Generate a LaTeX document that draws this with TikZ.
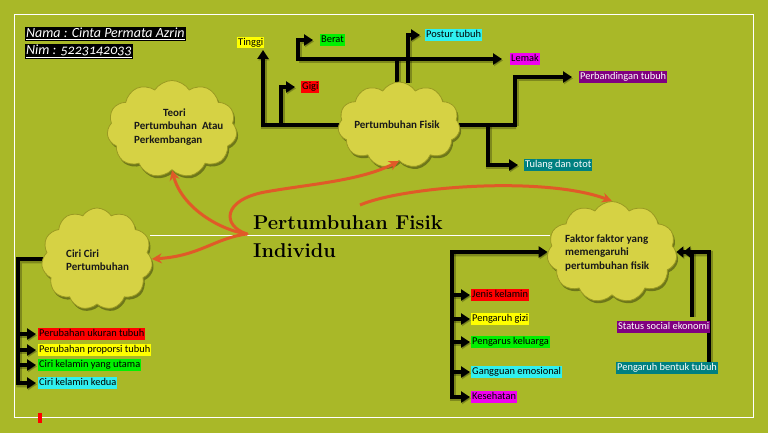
\documentclass[tikz,border=0pt]{standalone}
\usepackage{fontspec}
\newfontfamily\cf{Carlito}[Numbers=OldStyle]
\usetikzlibrary{shapes.symbols,arrows.meta,shadows}
\definecolor{bgc}{HTML}{A9B828}
\definecolor{cloudfill}{HTML}{D6D244}
\definecolor{cloudline}{HTML}{9A9A22}
\definecolor{orng}{HTML}{E05A28}
\definecolor{hlred}{HTML}{FF0000}
\definecolor{hlyellow}{HTML}{FFFF00}
\definecolor{hlgreen}{HTML}{00F000}
\definecolor{hlcyan}{HTML}{30F0F0}
\definecolor{hlmag}{HTML}{F000F0}
\definecolor{hlpurple}{HTML}{800080}
\definecolor{hlteal}{HTML}{008080}
\pgfdeclarelayer{back}
\pgfdeclarelayer{lines}
\pgfsetlayers{back,lines,main}
\begin{document}
\begin{tikzpicture}[x=1pt,y=-1pt,
  cloudbox/.style={cloud, cloud puffs=11, cloud puff arc=115, draw=cloudline, fill=cloudfill,
    line width=0.8pt, inner sep=0pt,
    drop shadow={shadow xshift=1.5pt, shadow yshift=-2.5pt, fill=black, opacity=0.35}},
  cloudtext/.style={align=left, inner sep=0pt, text=black!90,
    font=\cf\bfseries\fontsize{11}{13.5}\selectfont},
  lab/.style={anchor=west, inner xsep=1pt, inner ysep=0.6pt, text height=7.5pt, text depth=2.4pt,
    font=\cf\fontsize{10.4}{11}\selectfont},
  blkl/.style={line width=3.6pt, black, line cap=rect,
    preaction={draw=black, opacity=0.25, line width=5.5pt, transform canvas={shift={(1pt,-1.5pt)}}}},
  blk/.style={blkl, -{Triangle[length=9pt,width=11pt]}},
  orarr/.style={line width=3pt, orng, line cap=round, -{Stealth[length=10pt,width=10pt]}},
  namebox/.style={anchor=north west, fill=black, text=white, inner xsep=1pt, inner ysep=0.8pt,
    font=\cf\itshape\fontsize{14}{14}\selectfont}
]
\useasboundingbox (0,0) rectangle (768,433);
\begin{pgfonlayer}{back}
  \fill[bgc] (0,0) rectangle (768,433);
  \draw[white, line width=1pt] (14,15) rectangle (753,417);
  \draw[white, line width=0.6pt] (150,235) -- (550,235);
  \fill[red] (38,413) rectangle (42,423);
\end{pgfonlayer}

% name
\node[namebox] (nama) at (25,27) {\underline{Nama : Cinta Permata Azrin}};
\node[namebox] (nim) at (25,44) {\underline{Nim : 5223142033}};

% clouds
\node[cloudbox, minimum width=130pt, minimum height=97pt] (teori) at (172,129) {};
\node[cloudtext, anchor=west] (teoritx) at (134,127) {\hspace*{29pt}Teori\\Pertumbuhan\ \ Atau\\Perkembangan};
\node[cloudbox, minimum width=122pt, minimum height=86pt] (pf) at (399,125) {};
\node[cloudtext] (pftx) at (397,125) {Pertumbuhan Fisik};
\node[cloudbox, minimum width=111pt, minimum height=102pt] (ciri) at (97,259) {};
\node[cloudtext, anchor=west] (ciritx) at (66,260) {Ciri Ciri\\Pertumbuhan};
\node[cloudbox, minimum width=130pt, minimum height=101pt] (faktor) at (612,252) {};
\node[cloudtext, anchor=west] (faktortx) at (565,253) {Faktor faktor yang\\memengaruhi\\pertumbuhan fisik};

% title
\node[anchor=north west, inner sep=0pt, align=left, font=\bfseries\fontsize{20}{28}\selectfont] (title) at (253,215) {Pertumbuhan Fisik\\Individu};

% labels
\node[lab, fill=hlyellow] (tinggi) at (237,42.5) {Tinggi};
\node[lab, fill=hlgreen] (berat) at (320,40) {Berat};
\node[lab, fill=hlcyan] (postur) at (425,35) {Postur tubuh};
\node[lab, fill=hlred] (gigi) at (301,87) {Gigi};
\node[lab, fill=hlmag] (lemak) at (510,59) {Lemak};
\node[lab, fill=hlpurple, text=white] (perb) at (579,77) {Perbandingan tubuh};
\node[lab, fill=hlteal, text=white] (tulang) at (524,165) {Tulang dan otot};

\node[lab, fill=hlred] (ukuran) at (38,334) {Perubahan ukuran tubuh};
\node[lab, fill=hlyellow] (proporsi) at (38,350) {Perubahan proporsi tubuh};
\node[lab, fill=hlgreen] (utama) at (38,365) {Ciri kelamin yang utama};
\node[lab, fill=hlcyan] (kedua) at (38,383) {Ciri kelamin kedua};

\node[lab, fill=hlred] (jenis) at (471,295) {Jenis kelamin};
\node[lab, fill=hlyellow] (gizi) at (471,319) {Pengaruh gizi};
\node[lab, fill=hlgreen] (keluarga) at (471,342) {Pengarus keluarga};
\node[lab, fill=hlcyan] (emosi) at (471,372) {Gangguan emosional};
\node[lab, fill=hlmag] (kes) at (471,397) {Kesehatan};

\node[lab, fill=hlpurple, text=white] (status) at (617,327) {Status social ekonomi};
\node[lab, fill=hlteal, text=white] (bentuk) at (616,368) {Pengaruh bentuk tubuh};

% junction coordinates
\coordinate (tt) at (263,50);
\coordinate (j1) at (281,125);
\coordinate (j2) at (298,59);
\coordinate (v1) at (397,59);
\coordinate (v2) at (408,59);
\coordinate (j3) at (515,125);
\coordinate (j4) at (488,125);
\coordinate (c1) at (18,259);
\coordinate (c2) at (452,252);
\coordinate (c3) at (709,252);
\coordinate (c4) at (692,252);
\coordinate (o) at (247,234);

\begin{pgfonlayer}{lines}
  % top
  \draw[blk] (pf.west) -| (tt);
  \draw[blk, shorten >=6pt] (j1) |- (gigi.west);
  \draw[blkl] (pf.north -| v1) -- (v1);
  \draw[blk, shorten >=5pt] (pf.north -| v2) -- (v2) |- (postur.west);
  \draw[blk, shorten >=7pt] (j2) |- (berat.west);
  \draw[blk, shorten >=8pt] (j2) -- (lemak.west);
  \draw[blkl] (pf.east) -- (j3);
  \draw[blk, shorten >=7pt] (j3) |- (perb.west);
  \draw[blk, shorten >=6pt] (j4) |- (tulang.west);
  % left
  \draw[blk, shorten >=2pt] (ciri.west) -- (c1) |- (kedua.west);
  \draw[blk, shorten >=2pt] (ukuran.west -| c1) -- (ukuran.west);
  \draw[blk, shorten >=2pt] (proporsi.west -| c1) -- (proporsi.west);
  \draw[blk, shorten >=2pt] (utama.west -| c1) -- (utama.west);
  % right
  \draw[blk] (c2) -- (faktor.west);
  \draw[blk, shorten >=1pt] (c2) |- (kes.west);
  \draw[blk, shorten >=1pt] (jenis.west -| c2) -- (jenis.west);
  \draw[blk, shorten >=1pt] (gizi.west -| c2) -- (gizi.west);
  \draw[blk, shorten >=1pt] (keluarga.west -| c2) -- (keluarga.west);
  \draw[blk, shorten >=1pt] (emosi.west -| c2) -- (emosi.west);
  \draw[blkl, -{Triangle[length=7pt,width=11pt]Triangle[length=7pt,width=11pt]}] (bentuk.north -| c3) -- (c3) -- (faktor.east);
  \draw[blkl, shorten <=6pt] (status.north -| c4) -- (c4);
\end{pgfonlayer}

% orange arrows
\draw[orarr] (o) .. controls (220,230) and (182,208) .. (teori.south);
\draw[orarr] (o) .. controls (215,238) and (200,256) .. (ciri.east);
\draw[orarr] (o) .. controls (222,226) and (222,200) .. (265,192) .. controls (310,184) and (360,181) .. (pf.south);
\draw[orarr, line cap=butt] (360,205) .. controls (405,186) and (545,176) .. (faktor.north);
\end{tikzpicture}
\end{document}
